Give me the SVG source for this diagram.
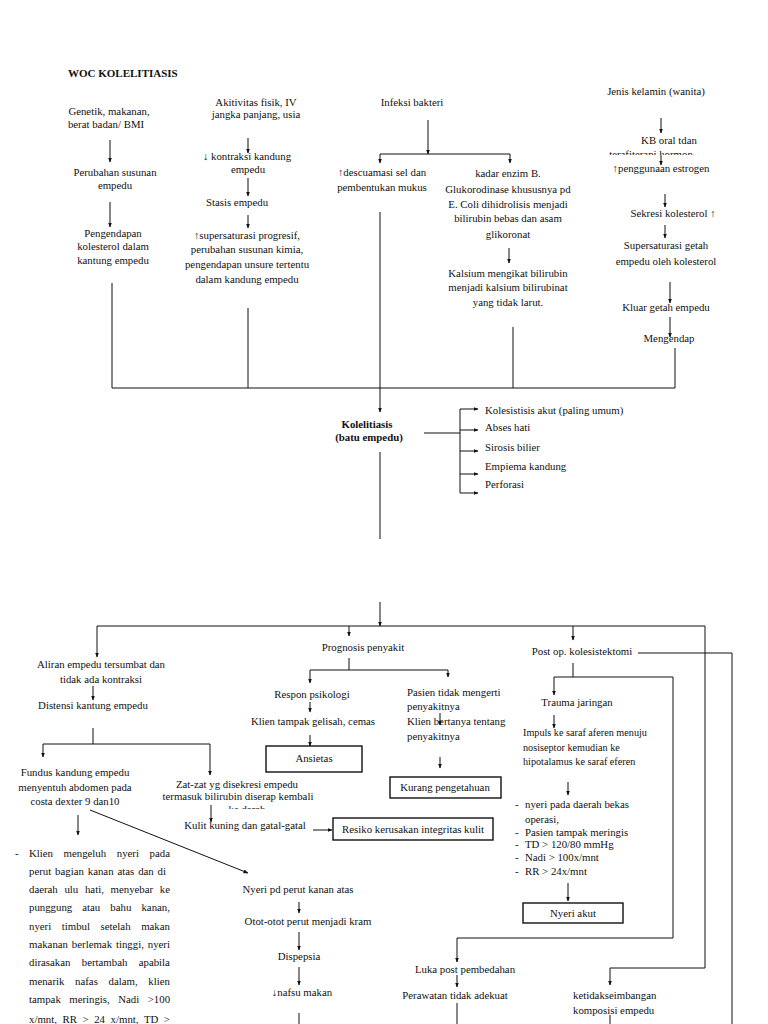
<svg xmlns="http://www.w3.org/2000/svg" width="768" height="1024" viewBox="0 0 768 1024">
<style>
text{font-family:"Liberation Serif","Times New Roman",serif;font-size:10.8px;fill:#111}
.m{text-anchor:middle}
.b{font-weight:bold}
.s{font-size:10.2px}
.ln{fill:none;stroke:#111;stroke-width:1}
.ar{fill:none;stroke:#111;stroke-width:1;marker-end:url(#ah)}
.bx{fill:#fff;stroke:#111;stroke-width:1.4}
</style>
<defs>
<marker id="ah" viewBox="0 0 10 10" refX="9" refY="5" markerWidth="5" markerHeight="5" orient="auto" markerUnits="userSpaceOnUse">
<path d="M0,1 L10,5 L0,9 z" fill="#111"/>
</marker>
<clipPath id="c1"><rect x="590" y="140" width="130" height="15"/></clipPath>
<clipPath id="c2"><rect x="215" y="800" width="70" height="9"/></clipPath>
</defs>
<rect width="768" height="1024" fill="#fff"/>

<g id="connectors">
<path class="ar" d="M110,140 V162"/>
<path class="ar" d="M110,202 V227"/>
<path class="ln" d="M112,283 V388"/>
<path class="ar" d="M248,138 V153"/>
<path class="ar" d="M248,178 V196"/>
<path class="ar" d="M248,215 V228"/>
<path class="ln" d="M248,308 V388"/>
<path class="ar" d="M428,120 V154"/>
<path class="ln" d="M380,154 H510"/>
<path class="ar" d="M380,154 V163"/>
<path class="ar" d="M510,154 V163"/>
<path class="ar" d="M380,212 V412"/>
<path class="ar" d="M509,248 V263"/>
<path class="ln" d="M513,327 V388"/>
<path class="ar" d="M661,118 V133"/>
<path class="ar" d="M661,155 V165"/>
<path class="ar" d="M665,194 V207"/>
<path class="ar" d="M665,225 V238"/>
<path class="ar" d="M670,282 V303"/>
<path class="ar" d="M670,317 V337"/>
<path class="ln" d="M675,348 V388"/>
<path class="ln" d="M112,388 H675"/>
<path class="ln" d="M424,433 H460"/>
<path class="ln" d="M460,409 V493"/>
<path class="ar" d="M460,409 H478"/>
<path class="ar" d="M460,430 H478"/>
<path class="ar" d="M460,451 H478"/>
<path class="ar" d="M460,474 H478"/>
<path class="ar" d="M460,493 H478"/>
<path class="ln" d="M380,452 V539"/>
<path class="ar" d="M380,602 V626"/>
<path class="ln" d="M97,626 H705"/>
<path class="ar" d="M97,626 V657"/>
<path class="ar" d="M93,686 V700"/>
<path class="ln" d="M93,728 V744 M43,744 H210"/>
<path class="ar" d="M43,744 V757"/>
<path class="ar" d="M210,744 V775"/>
<path class="ar" d="M78,815 V835"/>
<path class="ar" d="M90,810 L248,873"/>
<path class="ar" d="M211,805 V822"/>
<path class="ar" d="M313,830 H332"/>
<path class="ar" d="M349,626 V636"/>
<path class="ln" d="M349,658 V670 M310,670 H448"/>
<path class="ar" d="M310,670 V683"/>
<path class="ar" d="M448,670 V677"/>
<path class="ar" d="M310,702 V712"/>
<path class="ar" d="M310,735 V746"/>
<path class="ar" d="M440,713 V725"/>
<path class="ar" d="M440,757 V768"/>
<path class="ar" d="M573,626 V640"/>
<path class="ln" d="M638,653 H732 V1024"/>
<path class="ln" d="M573,663 V677 M554,677 H673"/>
<path class="ar" d="M554,677 V695"/>
<path class="ar" d="M673,677 V938 H457 V962"/>
<path class="ar" d="M554,715 V728"/>
<path class="ar" d="M568,782 V795"/>
<path class="ar" d="M568,883 V901"/>
<path class="ar" d="M705,626 V968 H610 V985"/>
<path class="ar" d="M457,975 V987"/>
<path class="ln" d="M457,1003 V1024"/>
<path class="ln" d="M610,1015 V1024"/>
<path class="ar" d="M299,902 V913"/>
<path class="ar" d="M299,932 V950"/>
<path class="ar" d="M299,967 V985"/>
<path class="ln" d="M299,1013 V1024"/>
</g>

<g id="title"><text class="b" x="68" y="77" style="font-size:11px">WOC KOLELITIASIS</text></g>

<g id="n-genetik"><text class="m" x="109" y="115">Genetik, makanan,</text><text class="m" x="106" y="128">berat badan/ BMI</text></g>
<g id="n-perubahan"><text class="m" x="115" y="176">Perubahan susunan</text><text class="m" x="115" y="189">empedu</text></g>
<g id="n-pengendapan"><text class="m" x="113" y="237">Pengendapan</text><text class="m" x="113" y="250">kolesterol dalam</text><text class="m" x="113" y="264">kantung empedu</text></g>

<g id="n-aktivitas"><text class="m" x="256" y="106">Akitivitas fisik, IV</text><text class="m" x="256" y="118">jangka panjang, usia</text></g>
<g id="n-kontraksi"><text class="m" x="247" y="160">↓ kontraksi kandung</text><text class="m" x="248" y="173">empedu</text></g>
<g id="n-stasis"><text class="m" x="237" y="206">Stasis empedu</text></g>
<g id="n-supersaturasi"><text class="m" x="247" y="239">↑supersaturasi progresif,</text><text class="m" x="247" y="253">perubahan susunan kimia,</text><text class="m" x="247" y="268">pengendapan unsure tertentu</text><text class="m" x="247" y="283">dalam kandung empedu</text></g>

<g id="n-infeksi"><text class="m" x="412" y="106">Infeksi bakteri</text></g>
<g id="n-descuamasi"><text class="m" x="382" y="176">↑descuamasi sel dan</text><text class="m" x="382" y="191">pembentukan mukus</text></g>
<g id="n-enzim"><text class="m" x="508" y="177">kadar enzim B.</text><text class="m" x="508" y="193">Glukorodinase khususnya pd</text><text class="m" x="508" y="208">E. Coli  dihidrolisis menjadi</text><text class="m" x="508" y="222">bilirubin bebas dan asam</text><text class="m" x="508" y="238">glikoronat</text></g>
<g id="n-kalsium"><text class="m" x="508" y="277">Kalsium mengikat bilirubin</text><text class="m" x="508" y="291">menjadi kalsium bilirubinat</text><text class="m" x="508" y="306">yang tidak larut.</text></g>

<g id="n-jenis"><text class="m" x="656" y="95">Jenis kelamin (wanita)</text></g>
<g id="n-kb"><text class="m" x="669" y="144">KB oral tdan</text><text class="m" x="651" y="158" clip-path="url(#c1)">terafiterapi hormon</text></g>
<g id="n-estrogen"><text class="m" x="661" y="172">↑penggunaan estrogen</text></g>
<g id="n-sekresi"><text class="m" x="673" y="217">Sekresi kolesterol ↑</text></g>
<g id="n-supersat2"><text class="m" x="666" y="249">Supersaturasi getah</text><text class="m" x="666" y="265">empedu oleh kolesterol</text></g>
<g id="n-keluar"><text class="m" x="666" y="311">Kluar getah empedu</text></g>
<g id="n-mengendap"><text class="m" x="669" y="342">Mengendap</text></g>

<g id="n-kolelitiasis"><text class="m b" x="367" y="428">Kolelitiasis</text><text class="m b" x="369" y="441">(batu empedu)</text></g>
<g id="n-komplikasi"><text x="485" y="414">Kolesistisis akut (paling umum)</text><text x="485" y="431">Abses hati</text><text x="485" y="451">Sirosis bilier</text><text x="485" y="470">Empiema kandung</text><text x="485" y="488">Perforasi</text></g>

<g id="n-aliran"><text class="m" x="101" y="668">Aliran empedu tersumbat dan</text><text class="m" x="101" y="683">tidak ada kontraksi</text></g>
<g id="n-distensi"><text class="m" x="93" y="709">Distensi kantung empedu</text></g>
<g id="n-fundus"><text class="m" x="75" y="776">Fundus kandung empedu</text><text class="m" x="75" y="791">menyentuh abdomen pada</text><text class="m" x="75" y="805">costa dexter 9 dan10</text></g>
<g id="n-keluhan">
<text x="15" y="857">-</text>
<text x="29" y="857" style="word-spacing:7.9px">Klien mengeluh nyeri pada</text>
<text x="29" y="875" style="word-spacing:1.2px">perut bagian kanan atas  dan di</text>
<text x="29" y="893" style="word-spacing:4px">daerah ulu hati, menyebar ke</text>
<text x="29" y="911" style="word-spacing:7.4px">punggung atau bahu kanan,</text>
<text x="29" y="930" style="word-spacing:7.9px">nyeri timbul setelah makan</text>
<text x="29" y="948" style="word-spacing:1.2px">makanan berlemak tinggi, nyeri</text>
<text x="29" y="966" style="word-spacing:8.7px">dirasakan bertambah apabila</text>
<text x="29" y="985" style="word-spacing:8px">menarik nafas dalam, klien</text>
<text x="29" y="1003" style="word-spacing:5.8px">tampak meringis, Nadi &gt;100</text>
<text x="29" y="1023" style="word-spacing:2.9px">x/mnt, RR &gt; 24 x/mnt, TD &gt;</text>
</g>
<g id="n-zat"><text class="m" x="237" y="788">Zat-zat yg disekresi empedu</text><text class="m" x="238" y="800">termasuk bilirubin diserap kembali</text><text class="m" x="247" y="813" clip-path="url(#c2)">ke darah</text></g>
<g id="n-kulit"><text class="m" x="245" y="829">Kulit kuning dan gatal-gatal</text></g>
<g id="n-resiko"><rect class="bx" x="333" y="818" width="160" height="22"/><text class="m" x="413" y="833">Resiko kerusakan integritas kulit</text></g>

<g id="n-prognosis"><text class="m" x="363" y="651">Prognosis penyakit</text></g>
<g id="n-respon"><text class="m" x="312" y="698">Respon psikologi</text></g>
<g id="n-gelisah"><text class="m" x="313" y="725">Klien tampak gelisah, cemas</text></g>
<g id="n-ansietas"><rect class="bx" x="266" y="746" width="96" height="26"/><text class="m" x="314" y="762">Ansietas</text></g>
<g id="n-pasien"><text x="407" y="696">Pasien tidak mengerti</text><text x="407" y="710">penyakitnya</text></g>
<g id="n-bertanya"><text x="407" y="725">Klien bertanya tentang</text><text x="407" y="740">penyakitnya</text></g>
<g id="n-kurang"><rect class="bx" x="390" y="777" width="111" height="21"/><text class="m" x="445" y="791">Kurang pengetahuan</text></g>

<g id="n-postop"><text class="m" x="582" y="655">Post op. kolesistektomi</text></g>
<g id="n-trauma"><text class="m" x="577" y="706">Trauma jaringan</text></g>
<g id="n-impuls"><text class="s" x="523" y="736">Impuls ke saraf aferen menuju</text><text class="s" x="523" y="751">nosiseptor kemudian ke</text><text class="s" x="523" y="765">hipotalamus ke saraf eferen</text></g>
<g id="n-tanda"><text x="515" y="808">-</text><text x="525" y="808">nyeri pada daerah bekas</text><text x="525" y="823">operasi,</text><text x="515" y="836">-</text><text x="525" y="836">Pasien tampak meringis</text><text x="515" y="848">-</text><text x="525" y="848">TD &gt; 120/80 mmHg</text><text x="515" y="861">-</text><text x="525" y="861">Nadi &gt; 100x/mnt</text><text x="515" y="875">-</text><text x="525" y="875">RR &gt; 24x/mnt</text></g>
<g id="n-nyeriakut"><rect class="bx" x="523" y="903" width="100" height="20"/><text class="m" x="573" y="917">Nyeri akut</text></g>

<g id="n-nyeripd"><text class="m" x="298" y="893">Nyeri pd perut kanan atas</text></g>
<g id="n-otot"><text class="m" x="308" y="925">Otot-otot perut menjadi kram</text></g>
<g id="n-dispepsia"><text class="m" x="299" y="960">Dispepsia</text></g>
<g id="n-nafsu"><text class="m" x="302" y="996">↓nafsu makan</text></g>

<g id="n-luka"><text class="m" x="465" y="973">Luka post pembedahan</text></g>
<g id="n-perawatan"><text class="m" x="455" y="999">Perawatan tidak adekuat</text></g>
<g id="n-ketidak"><text x="573" y="999">ketidakseimbangan</text><text x="573" y="1014">komposisi empedu</text></g>
</svg>
